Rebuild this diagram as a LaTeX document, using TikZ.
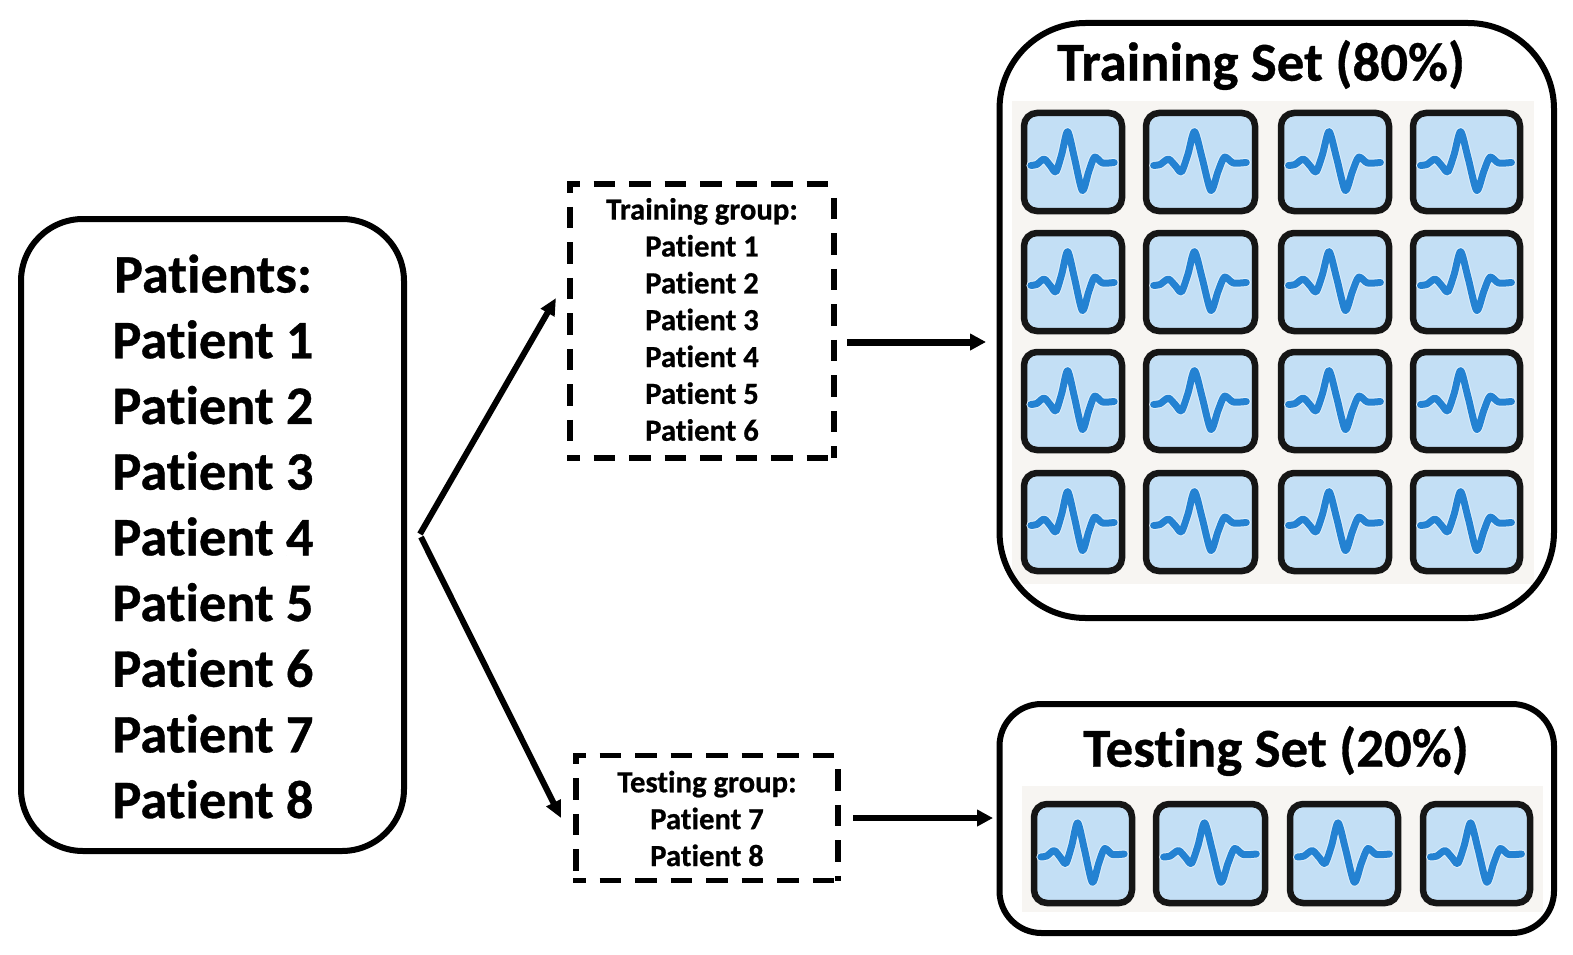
\documentclass[tikz,border=0pt]{standalone}
\usepackage{fontspec}
\setmainfont[Ligatures=NoCommon,BoldFeatures={FakeBold=0.6}]{Carlito}
\usetikzlibrary{arrows.meta}
\definecolor{panelbg}{HTML}{F7F5F2}
\definecolor{cellfill}{HTML}{C3DFF5}
\definecolor{wavecol}{HTML}{2482D2}
\definecolor{wavehalo}{HTML}{DCEEFB}
\definecolor{cellline}{HTML}{161616}
\tikzset{
  x=1pt,y=-1pt,
  mainbox/.style={draw=black,line width=6pt,inner sep=0pt},
  listtext/.style={inner sep=0pt,align=center,font=\bfseries\fontsize{54.3}{65.7}\selectfont},
  titletext/.style={inner sep=0pt,font=\bfseries\fontsize{54.8}{60}\selectfont},
  grouptext/.style={inner sep=0pt,align=center,font=\bfseries\fontsize{30.7}{36.85}\selectfont},
  groupbox/.style={inner sep=0pt},
  dashside/.style={draw=black,line width=5.5pt,line cap=butt},
  panel/.style={fill=panelbg,draw=none},
  cellbox/.style={fill=cellfill,draw=cellline,line width=6.5pt,rounded corners=13pt},
  wavebase/.style={draw=wavehalo,line width=9pt,line cap=round,line join=round},
  waveline/.style={draw=wavecol,line width=7pt,line cap=round,line join=round},
  fat/.style={-{Triangle[length=16pt,width=16pt]},line width=7pt,draw=black},
  thin/.style={-{Triangle[length=16pt,width=16pt]},line width=5.5pt,draw=black},
  slant/.style={-{Triangle[length=17pt,width=15pt]},line width=6pt,draw=black},
}
\newcommand{\ecgcell}[4]{%
  \begin{scope}[shift={(#1,#2)},x=#3pt,y=-#4pt]
    \draw[cellbox] (0,0) rectangle (1,1);
    \foreach \st in {wavebase,waveline}
      {\draw[\st] plot[smooth,tension=.45] coordinates {(.07,.535) (.13,.525) (.205,.47) (.27,.54) (.325,.60) (.385,.42) (.445,.19) (.515,.46) (.595,.79) (.66,.60) (.72,.45) (.80,.51) (.92,.505)};}
  \end{scope}}
\begin{document}
\begin{tikzpicture}
\useasboundingbox (0,0) rectangle (1573,955);
\fill[white] (0,0) rectangle (1573,955);

% patients
\node[mainbox,rounded corners=62pt,minimum width=383pt,minimum height=632pt] (patients) at (212.5,535) {};
\node[listtext] (patientlist) at (213,536.5)
  {Patients:\\Patient 1\\Patient 2\\Patient 3\\Patient 4\\Patient 5\\Patient 6\\Patient 7\\Patient 8};

% training panel
\fill[panel] (1012,101) rectangle (1534,584);
\node[mainbox,rounded corners=86pt,minimum width=554.5pt,minimum height=595pt] (trainset) at (1276.75,320.5) {};
\node[titletext] (traintitle) at (1261,65) {Training Set (80\%)};
\foreach \yy in {113,233,352,473} {
  \foreach \xx/\ww in {1024/98,1146/109,1281/108,1413/107} {
    \ecgcell{\xx}{\yy}{\ww}{98}
  }
}

% testing panel
\fill[panel] (1022,786) rectangle (1543,912);
\node[mainbox,rounded corners=42pt,minimum width=554.5pt,minimum height=229pt] (testset) at (1276.75,818.5) {};
\node[titletext] (testtitle) at (1276,751) {Testing Set (20\%)};
\foreach \xx/\ww in {1034/98,1156/109,1290/108,1423/107} {
  \ecgcell{\xx}{804}{\ww}{99}
}

% group boxes
\node[groupbox,minimum width=264pt,minimum height=274pt] (traingroup) at (702,321) {};
\node[grouptext] (traintext) at (702,319.5)
  {Training group:\\Patient 1\\Patient 2\\Patient 3\\Patient 4\\Patient 5\\Patient 6};
\draw[dashside,dash pattern=on 21.5pt off 14pt,dash phase=9pt] ([xshift=-2.75pt]traingroup.north west) -- ([xshift=2.75pt]traingroup.north east);
\draw[dashside,dash pattern=on 21.5pt off 14pt,dash phase=21.5pt] (traingroup.north east) -- (traingroup.south east);
\draw[dashside,dash pattern=on 21.5pt off 14pt,dash phase=12.5pt] (traingroup.north west) -- (traingroup.south west);
\draw[dashside,dash pattern=on 21.5pt off 14pt,dash phase=9pt] ([xshift=-2.75pt]traingroup.south west) -- ([xshift=2.75pt]traingroup.south east);

\node[groupbox,minimum width=262pt,minimum height=125pt] (testgroup) at (707,818) {};
\node[grouptext] (testtext) at (707,818.5)
  {Testing group:\\Patient 7\\Patient 8};
\draw[dashside,dash pattern=on 21.5pt off 14pt,dash phase=9pt] ([xshift=-2.75pt]testgroup.north west) -- ([xshift=2.75pt]testgroup.north east);
\draw[dashside,dash pattern=on 21.5pt off 14pt,dash phase=21.5pt] (testgroup.north east) -- (testgroup.south east);
\draw[dashside,dash pattern=on 21.5pt off 14pt,dash phase=12.5pt] (testgroup.north west) -- (testgroup.south west);
\draw[dashside,dash pattern=on 21.5pt off 14pt,dash phase=9pt] ([xshift=-2.75pt]testgroup.south west) -- ([xshift=2.75pt]testgroup.south east);

% connectors
\coordinate (forkup) at (420,534);
\coordinate (forkdown) at (421,537);
\coordinate (tipup) at (556,298);
\coordinate (tipdown) at (561,818);
\coordinate (trainout) at (847,342);
\coordinate (trainin) at (986,342);
\coordinate (testout) at (853,818);
\coordinate (testin) at (993,818);
\draw[slant] (forkup) -- (tipup);
\draw[slant] (forkdown) -- (tipdown);
\draw[fat] (trainout) -- (trainin);
\draw[thin] (testout) -- (testin);
\end{tikzpicture}
\end{document}
